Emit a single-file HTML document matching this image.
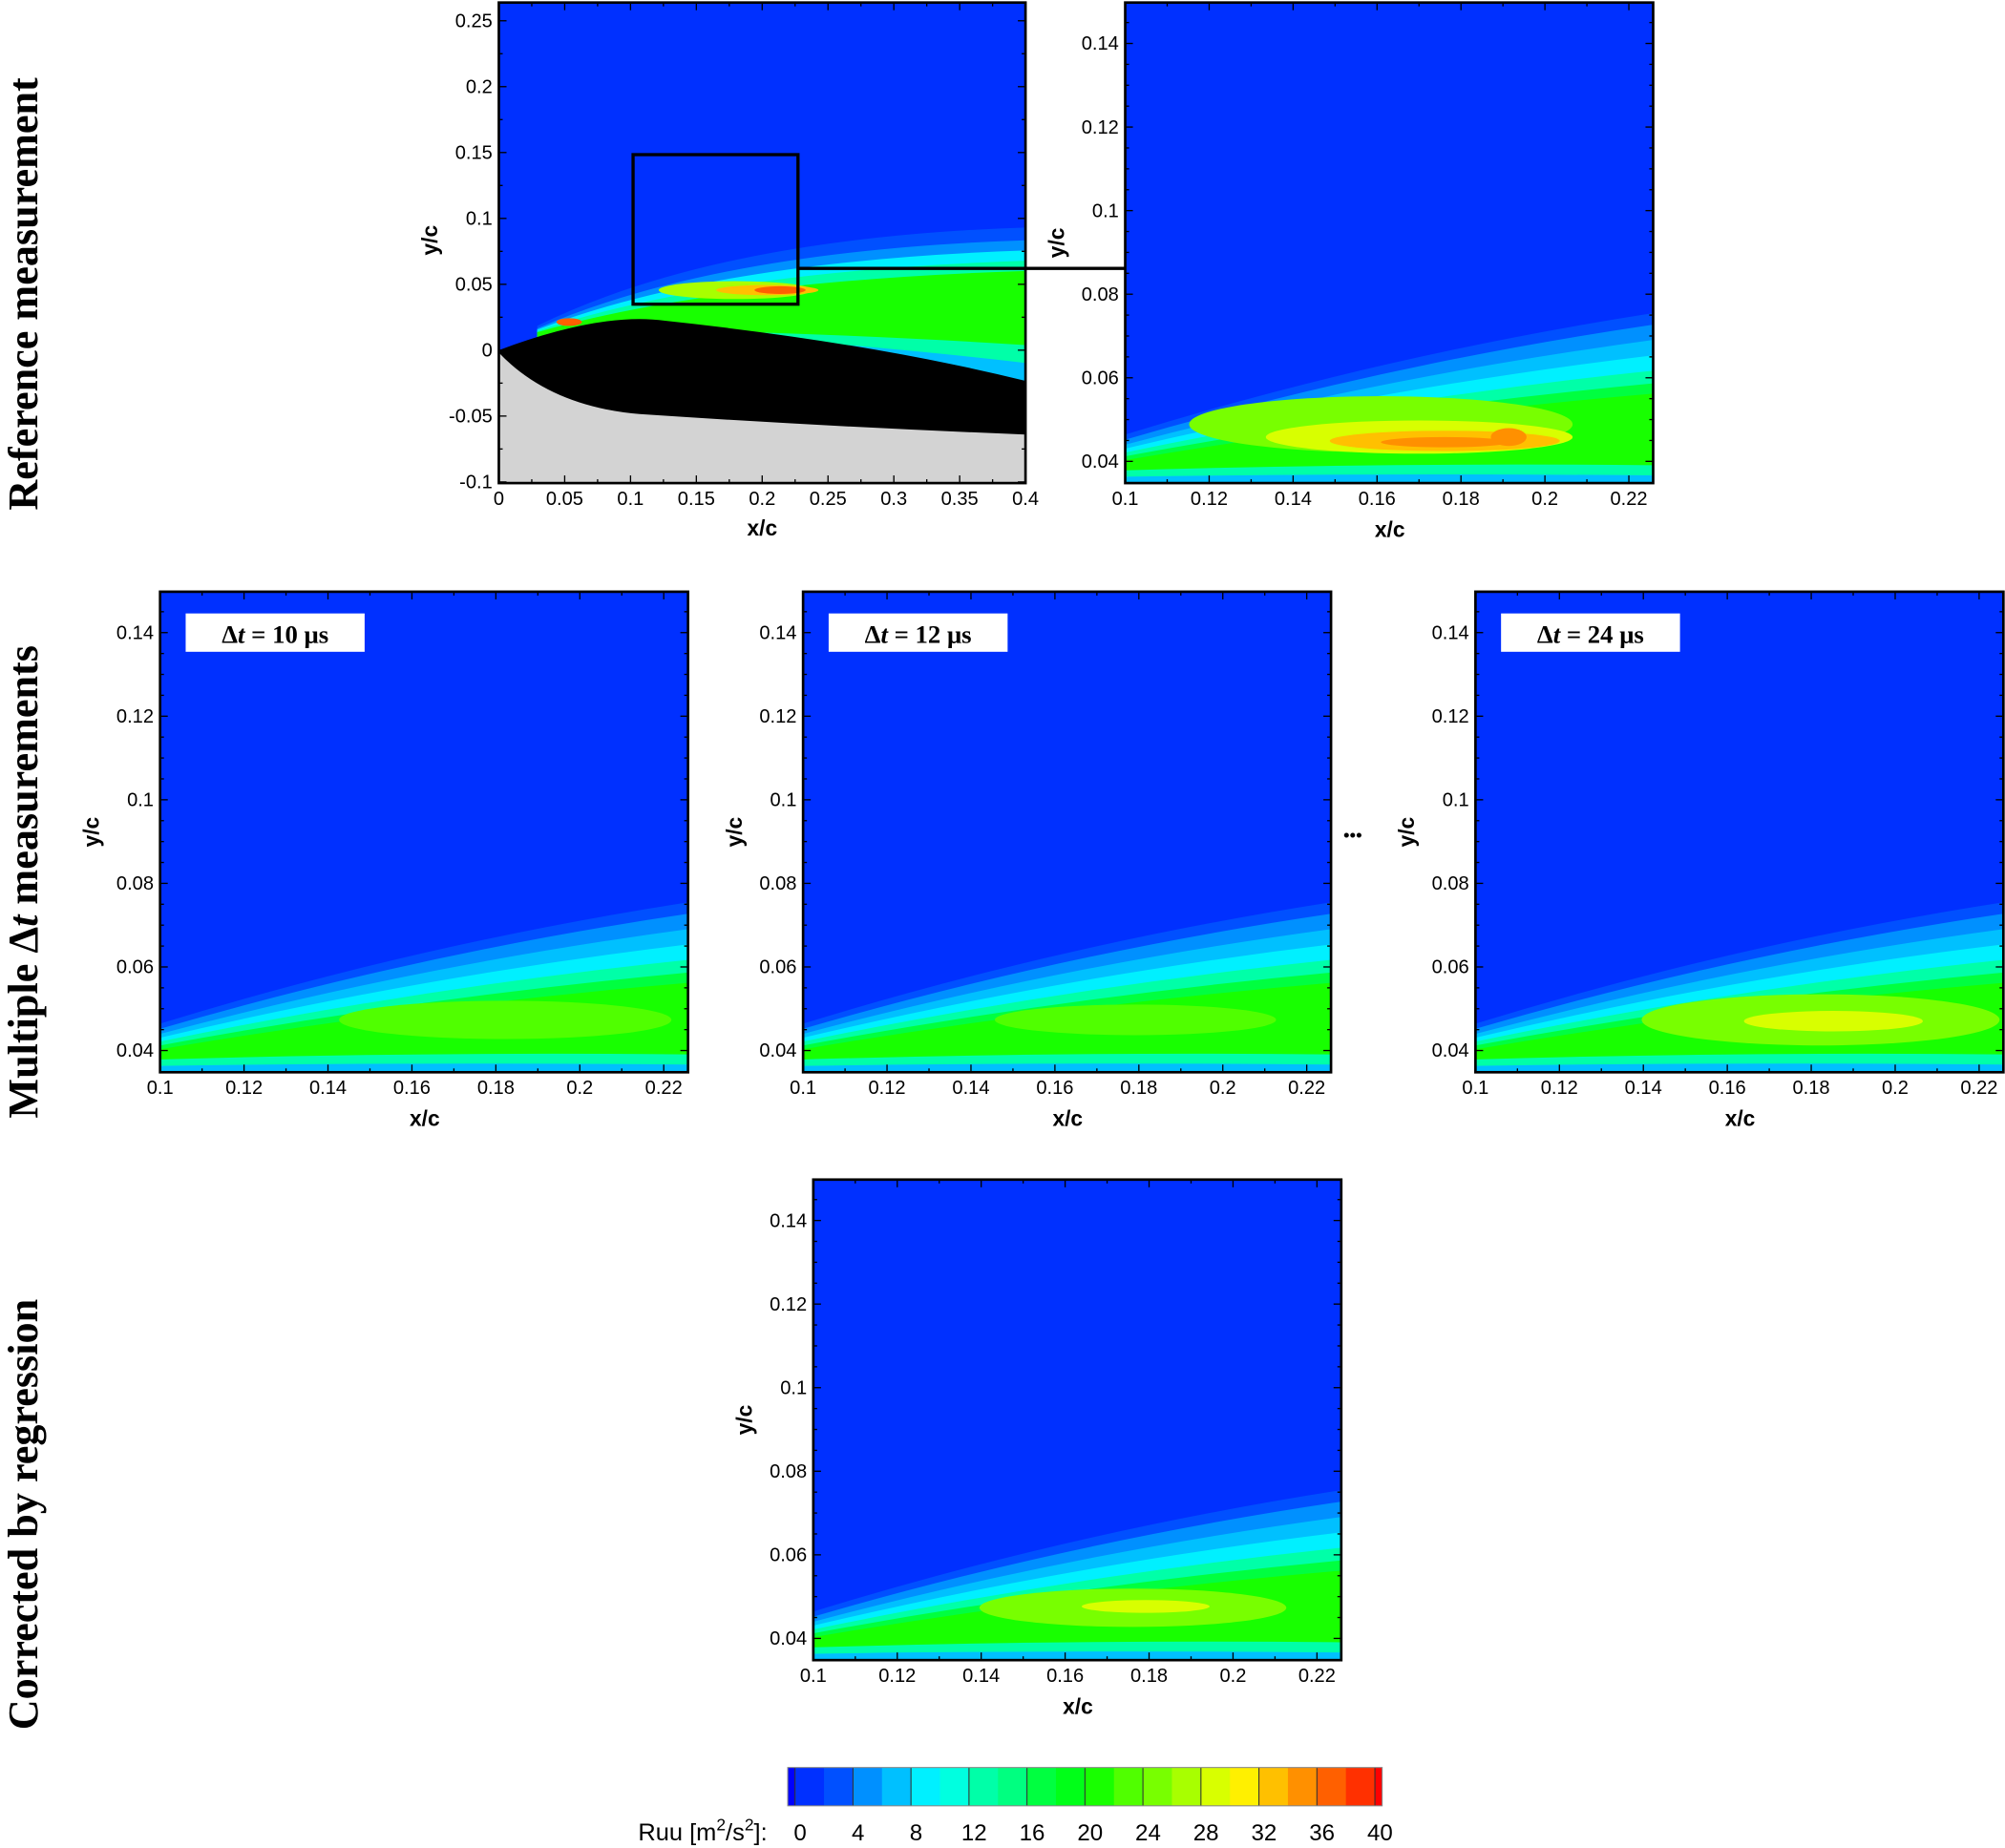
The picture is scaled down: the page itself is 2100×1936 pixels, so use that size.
<!DOCTYPE html>
<html><head><meta charset="utf-8"><style>html,body{margin:0;padding:0;background:#fff}svg{display:block}</style></head>
<body>
<svg id="s" xmlns="http://www.w3.org/2000/svg" width="2100" height="1936" viewBox="0 0 1568 1446" font-family="Liberation Sans, sans-serif">
<rect width="1568" height="1446" fill="#fff"/>
</svg>
<script>
const S=document.getElementById('s'),NS='http://www.w3.org/2000/svg';
function el(t,a,p){const e=document.createElementNS(NS,t);for(const k in a)e.setAttribute(k,a[k]);(p||S).appendChild(e);return e;}
function txt(x,y,s,a,p){const e=el('text',Object.assign({x:x,y:y},a||{}),p);e.textContent=s;return e;}
const C=['#0030ff','#0050ff','#0090ff','#00c0ff','#00f0ff','#00ffe0','#00ffa8','#00ff80','#00ff40','#00ff18','#18ff00','#50ff00','#78ff00','#a8ff00','#d8ff00','#fff000','#ffc000','#ff9000','#ff6000','#ff3000'];
let cid=0;
function zoomPanel(L,T,opt){
  const W=413,H=376,id='c'+(cid++);
  const cp=el('clipPath',{id:id});el('rect',{x:L,y:T,width:W,height:H},cp);
  const g=el('g',{'clip-path':'url(#'+id+')'});
  el('rect',{x:L,y:T,width:W,height:H,fill:'#0030ff'},g);
  const lay=[[338,243,'#0050ff'],[342,252,'#0090ff'],[346,264,'#00c0ff'],[349,276,'#00f0ff'],[352,288,'#00ffa8'],[355,298,'#00ff40'],[358,306,'#18ff00']];
  lay.forEach(l=>{el('path',{d:`M${L},${T+l[0]} Q${L+200},${T+l[1]+(l[0]-l[1])*0.35} ${L+W},${T+l[1]} L${L+W},${T+H} L${L},${T+H}Z`,fill:l[2]},g);});
  el('path',{d:`M${L},${T+366} Q${L+200},${T+360} ${L+W},${T+362} L${L+W},${T+H} L${L},${T+H}Z`,fill:'#00ffa8'},g);
  el('path',{d:`M${L},${T+371} Q${L+200},${T+368} ${L+W},${T+370} L${L+W},${T+H} L${L},${T+H}Z`,fill:'#00c0ff'},g);
  (opt.blobs||[]).forEach(b=>el('ellipse',{cx:L+b[0],cy:T+b[1],rx:b[2],ry:b[3],fill:b[4]},g));
  el('rect',{x:L,y:T,width:W,height:H,fill:'none',stroke:'#000','stroke-width':2});
  for(let i=0;i<=13;i++){const v=0.1+i*0.01,x=L+(v-0.1)/0.12*394;if(x>L+W-1)continue;const big=i%2==0;const len=big?6:3;
    el('line',{x1:x,y1:T+H,x2:x,y2:T+H-len,stroke:'#000'});el('line',{x1:x,y1:T,x2:x,y2:T+len,stroke:'#000'});
    if(big)txt(x,T+H+17,(Math.round(v*100)/100).toString(),{'font-size':15,'text-anchor':'middle'});}
  for(let i=0;i<=22;i++){const v=0.035+i*0.005,y=T+32+(0.14-v)*3270;if(y<T+1||y>T+H-1)continue;const big=Math.abs((v*100)%2)<0.01||Math.abs((v*100)%2-2)<0.01;const len=big?6:3;
    el('line',{x1:L,y1:y,x2:L+len,y2:y,stroke:'#000'});el('line',{x1:L+W,y1:y,x2:L+W-len,y2:y,stroke:'#000'});
    if(big)txt(L-5,y+5,(Math.round(v*100)/100).toString(),{'font-size':15,'text-anchor':'end'});}
  txt(L+207,T+H+42,'x/c',{'font-size':17,'font-weight':'bold','text-anchor':'middle'});
  txt(0,0,'y/c',{'font-size':17,'font-weight':'bold','text-anchor':'middle',transform:`translate(${L-48},${T+188}) rotate(-90)`});
  if(opt.label){el('rect',{x:L+20,y:T+17,width:140,height:30,fill:'#fff'});
    const t=txt(L+90,T+40,'',{'font-size':20,'font-weight':'bold','text-anchor':'middle','font-family':'Liberation Serif, serif'});
    t.innerHTML='Δ<tspan font-style="italic">t</tspan> = '+opt.label+' μs';}
}
(function(){const L=390,T=2,W=412,H=376;
  const cp=el('clipPath',{id:'p1'});el('rect',{x:L,y:T,width:W,height:H},cp);
  const g=el('g',{'clip-path':'url(#p1)'});
  el('rect',{x:L,y:T,width:W,height:H,fill:'#0030ff'},g);
  const lay=[[255,178,'#0050ff'],[257,188,'#0090ff'],[258,196,'#00f0ff'],[259,204,'#00ffa8'],[260,212,'#18ff00']];
  lay.forEach(l=>el('path',{d:`M${420},${l[0]} Q${560},${l[1]+8} ${802},${l[1]} L802,330 L420,300Z`,fill:l[2]},g));
  el('path',{d:'M520,258 Q680,262 802,270 L802,300 L520,300Z',fill:'#00ffa8'},g);
  el('path',{d:'M560,262 Q700,272 802,284 L802,300 L560,300Z',fill:'#00c0ff'},g);
  el('ellipse',{cx:575,cy:227,rx:60,ry:7,fill:'#a8ff00'},g);
  el('ellipse',{cx:600,cy:227,rx:40,ry:4,fill:'#ffc000'},g);
  el('ellipse',{cx:610,cy:227,rx:20,ry:3,fill:'#ff6000'},g);
  el('ellipse',{cx:445,cy:252,rx:10,ry:3,fill:'#ff6000'},g);
  el('path',{d:'M390,274 Q470,244 520,251 Q680,268 802,298 L802,378 L390,378Z',fill:'#000'},g);
  el('path',{d:'M390,276 Q430,318 500,324 Q650,334 802,340 L802,378 L390,378Z',fill:'#d3d3d3'},g);
  el('rect',{x:L,y:T,width:W,height:H,fill:'none',stroke:'#000','stroke-width':2});
  el('rect',{x:495,y:121,width:129,height:117,fill:'none',stroke:'#000','stroke-width':2.5});
  el('line',{x1:624,y1:210,x2:880,y2:210,stroke:'#000','stroke-width':2.5});
  for(let i=0;i<=16;i++){const v=i*0.025,x=L+v/0.4*W;const big=i%2==0,len=big?6:3;
    el('line',{x1:x,y1:T+H,x2:x,y2:T+H-len,stroke:'#000'});el('line',{x1:x,y1:T,x2:x,y2:T+len,stroke:'#000'});
    if(big)txt(x,T+H+17,(Math.round(v*100)/100).toString(),{'font-size':15,'text-anchor':'middle'});}
  for(let i=0;i<=14;i++){const v=-0.1+i*0.025,y=274-v*1031;const big=i%2==0,len=big?6:3;
    el('line',{x1:L,y1:y,x2:L+len,y2:y,stroke:'#000'});el('line',{x1:L+W,y1:y,x2:L+W-len,y2:y,stroke:'#000'});
    if(big)txt(L-5,y+5,(Math.round(v*100)/100).toString(),{'font-size':15,'text-anchor':'end'});}
  txt(596,419,'x/c',{'font-size':17,'font-weight':'bold','text-anchor':'middle'});
  txt(0,0,'y/c',{'font-size':17,'font-weight':'bold','text-anchor':'middle',transform:'translate(342,188) rotate(-90)'});
})();
zoomPanel(880,2,{blobs:[[200,330,150,22,'#78ff00'],[230,340,120,13,'#d8ff00'],[250,343,90,8,'#ffc000'],[250,344,50,4,'#ff9000'],[300,340,14,7,'#ff9000']]});
zoomPanel(125,463,{label:'10',blobs:[[270,335,130,15,'#50ff00']]});
zoomPanel(628,463,{label:'12',blobs:[[260,335,110,12,'#50ff00']]});
zoomPanel(1154,463,{label:'24',blobs:[[270,335,140,20,'#78ff00'],[280,336,70,8,'#d8ff00']]});
zoomPanel(636,923,{blobs:[[250,335,120,15,'#78ff00'],[260,334,50,5,'#d8ff00']]});
txt(1058,658,'•••',{'font-size':14,'text-anchor':'middle'});
const rl={'font-size':33,'font-weight':'bold','font-family':'Liberation Serif, serif','text-anchor':'middle'};
txt(0,0,'Reference measurement',Object.assign({transform:'translate(29,230) rotate(-90)'},rl));
const t2=txt(0,0,'',Object.assign({transform:'translate(29,690) rotate(-90)'},rl));t2.innerHTML='Multiple Δ<tspan font-style="italic">t</tspan> measurements';
txt(0,0,'Corrected by regression',Object.assign({transform:'translate(29,1185) rotate(-90)'},rl));
const cx0=616,cw=465,u=cw/41;
el('rect',{x:cx0,y:1383,width:u*0.5,height:30,fill:'#0000ff'});
for(let i=0;i<20;i++)el('rect',{x:cx0+u*0.5+i*2*u,y:1383,width:2*u+0.5,height:30,fill:C[i]});
el('rect',{x:cx0+u*40.5,y:1383,width:u*0.5,height:30,fill:'#ff0000'});
for(let i=0;i<=10;i++){const x=cx0+u*0.5+i*4*u;el('line',{x1:x,y1:1383,x2:x,y2:1413,stroke:'#333','stroke-width':0.8});
  txt(x+4,1440,String(i*4),{'font-size':18,'text-anchor':'middle'});}
el('rect',{x:cx0,y:1383,width:cw,height:30,fill:'none',stroke:'#888','stroke-width':0.8});
const rt=txt(600,1440,'',{'font-size':19,'text-anchor':'end'});
rt.innerHTML='Ruu [m<tspan dy="-8" font-size="13">2</tspan><tspan dy="8">/s</tspan><tspan dy="-8" font-size="13">2</tspan><tspan dy="8">]:</tspan>';
</script>
</body></html>
